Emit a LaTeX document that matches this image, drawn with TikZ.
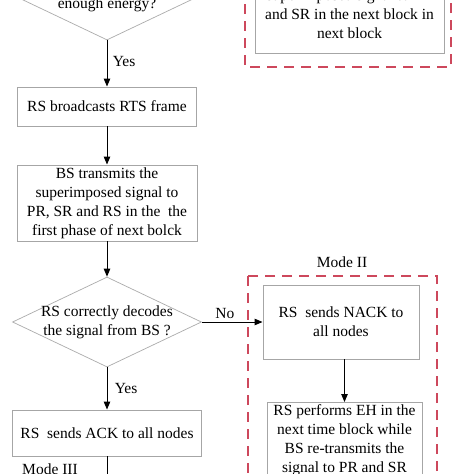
\documentclass[tikz,border=0pt]{standalone}
\usepackage{fontspec}
\setmainfont{Liberation Serif}
\usetikzlibrary{arrows.meta, shapes.geometric}
\definecolor{modered}{RGB}{205,72,92}

\begin{document}
\begin{tikzpicture}[
  x=1pt, y=-1pt,
  font=\fontsize{15.5}{19}\selectfont,
  block/.style={rectangle, draw=gray!70, line width=0.9pt, align=center, inner sep=0pt},
  decision/.style={diamond, draw=gray!65, line width=0.7pt, minimum width=189pt, minimum height=90pt, inner sep=0pt},
  modebox/.style={draw=modered, line width=1.1pt, dash pattern=on 10pt off 7pt},
  arrow/.style={-{Triangle[length=8pt, width=6.5pt]}, line width=1pt}
  ]
  \useasboundingbox[fill=white] (0,0) rectangle (474,474);
  \clip (0,0) rectangle (474,474);

  % ========== main column ==========
  \node[decision, label={[yshift=-10pt]center:enough energy?}] (D1) at (107,-5) {};
  \node[block, minimum width=179pt, minimum height=39pt] (B1) at (107,106.5) {RS broadcasts RTS frame};
  \node[block, minimum width=180pt, minimum height=76pt] (B2) at (107,203)
    {BS transmits the\\superimposed signal to\\PR, SR and RS in the\ \ the\\first phase of next bolck};
  \node[decision, label={[align=center]center:RS correctly decodes\\the signal from BS ?}] (D2) at (107,322) {};
  \node[block, minimum width=189pt, minimum height=46pt] (B3) at (107,433) {RS\ \ sends ACK to all nodes};
  \coordinate (B3out) at (107,495);
  \node (M3) at (50,469) {Mode III};

  % ========== Mode II ==========
  \node (M2) at (342,262) {Mode II};
  \draw[modebox] (248,276) rectangle (437,500);
  \node[block, minimum width=156pt, minimum height=74pt] (N1) at (341,322) {RS\ \ sends NACK to\\all nodes};
  \node[block, anchor=north, minimum width=155pt, inner ysep=2.5pt] (N2) at (344.5,402)
    {RS performs EH in the\\next time block while\\BS re-transmits the\\signal to PR and SR};

  % ========== top right ==========
  \draw[modebox] (245,-30) rectangle (451,67);
  \node[block, anchor=south, minimum width=189pt, inner ysep=15pt] (T1) at (349.5,54)
    {superimposed signal to PR\\and SR in the next block in\\next block};

  % ========== connectors ==========
  \draw[arrow] (D1.south) -- node[right=2pt, pos=0.45] {Yes} (B1.north);
  \draw[arrow] (B1.south) -- (B2.north);
  \draw[arrow] (B2.south) -- (D2.north);
  \draw[arrow] (D2.east) -- node[above, pos=0.38] {No} (N1.west);
  \draw[arrow] (D2.south) -- node[right=4pt] {Yes} (B3.north);
  \draw[arrow] (N1.south -| N2.north) -- (N2.north);
  \draw[line width=1pt] (B3.south) -- (B3out);
\end{tikzpicture}
\end{document}
